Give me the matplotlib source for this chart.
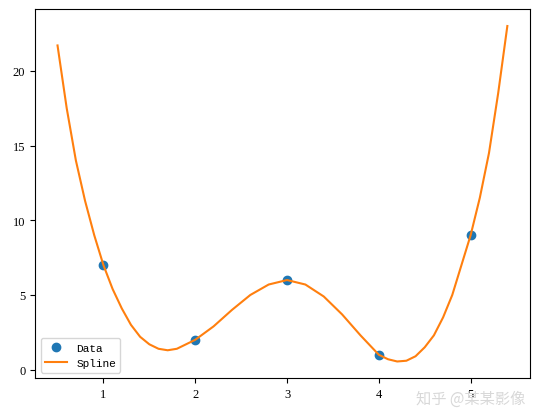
import matplotlib.pyplot as plt

# data points
x_data = [1, 2, 3, 4, 5]
y_data = [7, 2, 6, 1, 9]

# spline curve
x_spline = [0.5, 0.6, 0.7, 0.8, 0.9, 1.0, 1.1, 1.2, 1.3, 1.4, 1.5, 1.6, 1.7, 1.8, 1.9,
            2.0, 2.2, 2.4, 2.6, 2.8, 3.0, 3.2, 3.4, 3.6, 3.8, 4.0, 4.1, 4.2, 4.3, 4.4,
            4.5, 4.6, 4.7, 4.8, 4.9, 5.0, 5.1, 5.2, 5.3, 5.4]
y_spline = [21.7, 17.5, 14.0, 11.3, 9.0, 7.0, 5.4, 4.1, 3.0, 2.2, 1.7, 1.4, 1.3, 1.4, 1.7,
            2.0, 2.9, 4.0, 5.0, 5.7, 6.0, 5.7, 4.9, 3.7, 2.3, 1.0, 0.7, 0.55, 0.6, 0.9,
            1.5, 2.3, 3.5, 5.0, 7.0, 9.0, 11.5, 14.5, 18.5, 23.0]

fig = plt.figure(figsize=(5.39, 4.10), dpi=100)
ax = fig.add_axes([0.065, 0.075, 0.918, 0.9])
ax.plot(x_data, y_data, 'o', label='Data')
ax.plot(x_spline, y_spline, '-', label='Spline')
ax.set_xticks([1, 2, 3, 4, 5])
ax.set_yticks([0, 5, 10, 15, 20])
for t in ax.get_xticklabels() + ax.get_yticklabels():
    t.set_fontfamily('Liberation Serif')
    t.set_fontsize(9)
ax.legend(loc='lower left', prop={'family': 'Liberation Mono', 'size': 8})

fig.text(0.975, 0.005, '知乎 @某某影像', ha='right', va='bottom', fontsize=11,
         color='#d8d8d8', family=['Noto Sans CJK SC', 'DejaVu Sans'])

fig.savefig('out.png')
